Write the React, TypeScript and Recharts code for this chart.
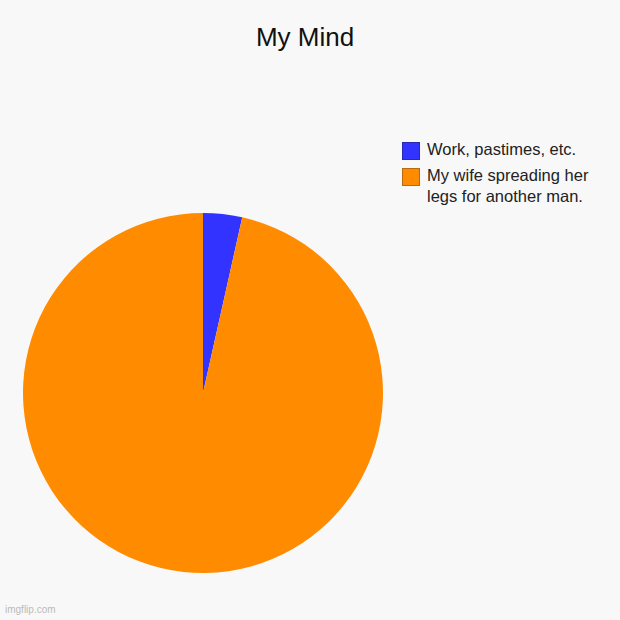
import React from "react";
import { PieChart, Pie, Cell, Legend } from "recharts";

const categories = ["Work, pastimes, etc.", "My wife spreading her legs for another man."];
const values = [3.5, 96.5];
const colors = ["#3333ff", "#ff8c00"];
const borders = ["#2a2ab0", "#b86a10"];
const legendLines = [["Work, pastimes, etc."], ["My wife spreading her", "legs for another man."]];

const data = categories.map((name, i) => ({ name, value: values[i] }));

const font = "'Liberation Sans', Arial, sans-serif";

const renderLegend = () => (
  <div style={{ fontFamily: font, fontSize: 16.5, color: "#222" }}>
    {categories.map((c, i) => (
      <div key={c} style={{ display: "flex", alignItems: "flex-start", marginBottom: 7 }}>
        <div
          style={{
            width: 16,
            height: 16,
            background: colors[i],
            border: `1px solid ${borders[i]}`,
            marginRight: 7,
            marginTop: 1,
            flexShrink: 0,
          }}
        />
        <div style={{ lineHeight: "21px", marginTop: -2 }}>
          {legendLines[i].map((l) => (
            <div key={l}>{l}</div>
          ))}
        </div>
      </div>
    ))}
  </div>
);

export default function App() {
  return (
    <div
      style={{
        position: "absolute",
        left: 0,
        top: 0,
        width: 620,
        height: 620,
        background: "#f8f8f8",
        fontFamily: font,
      }}
    >
      <div
        style={{
          position: "absolute",
          left: 0,
          width: 610,
          top: 22,
          textAlign: "center",
          fontSize: 26,
          color: "#111",
        }}
      >
        My Mind
      </div>
      <PieChart width={620} height={620} margin={{ top: 0, right: 0, bottom: 0, left: 0 }}>
        <Pie
          data={data}
          dataKey="value"
          nameKey="name"
          cx={203}
          cy={393}
          outerRadius={180}
          startAngle={90}
          endAngle={-270}
          stroke="none"
          isAnimationActive={false}
        >
          {data.map((d, i) => (
            <Cell key={d.name} fill={colors[i]} />
          ))}
        </Pie>
        <Legend
          content={renderLegend}
          layout="vertical"
          verticalAlign="top"
          align="right"
          wrapperStyle={{ left: 402, top: 141, width: 210 }}
        />
      </PieChart>
      <div
        style={{
          position: "absolute",
          left: 5,
          top: 604,
          fontSize: 10,
          color: "#bbb",
        }}
      >
        imgflip.com
      </div>
    </div>
  );
}
